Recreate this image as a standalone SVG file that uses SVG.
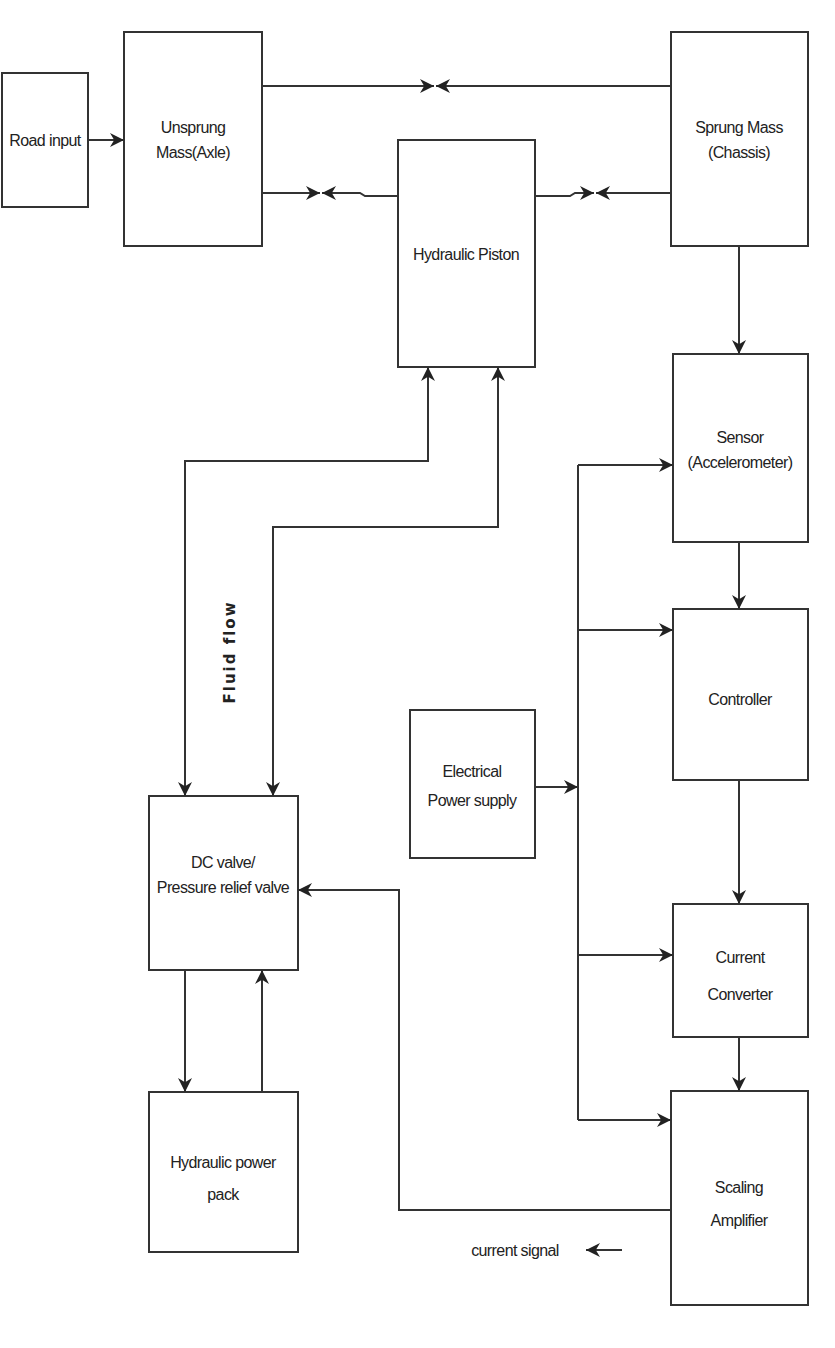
<svg xmlns="http://www.w3.org/2000/svg" width="835" height="1348" viewBox="0 0 835 1348">
<style>
.n{fill:#fff;stroke:#333;stroke-width:2}
.t{font-family:"Liberation Sans",Arial,sans-serif;font-size:16px;letter-spacing:-0.6px;fill:#222;text-anchor:middle}
.c{fill:none;stroke:#333;stroke-width:2}
</style>
<defs>
<marker id="a" viewBox="0 0 10 10" refX="10" refY="5" markerWidth="7" markerHeight="7" orient="auto-start-reverse"><path d="M0,0L10,5L0,10L3,5z" fill="#222"/></marker>
</defs>
<rect width="835" height="1348" fill="#fff"/>
<g id="road"><rect class="n" x="2" y="73" width="86" height="134"/><text class="t" x="45" y="146">Road input</text></g>
<g id="unsprung"><rect class="n" x="124" y="32" width="138" height="214"/><text class="t" x="193" y="133">Unsprung</text><text class="t" x="193" y="158">Mass(Axle)</text></g>
<g id="sprung"><rect class="n" x="671" y="32" width="137" height="214"/><text class="t" x="739" y="133">Sprung Mass</text><text class="t" x="739" y="158">(Chassis)</text></g>
<g id="piston"><rect class="n" x="398" y="140" width="137" height="227"/><text class="t" x="466" y="260">Hydraulic Piston</text></g>
<g id="sensor"><rect class="n" x="673" y="354" width="135" height="188"/><text class="t" x="740" y="443">Sensor</text><text class="t" x="740" y="468">(Accelerometer)</text></g>
<g id="controller"><rect class="n" x="673" y="609" width="135" height="171"/><text class="t" x="740" y="705">Controller</text></g>
<g id="power"><rect class="n" x="410" y="710" width="125" height="148"/><text class="t" x="472" y="777">Electrical</text><text class="t" x="472" y="806">Power supply</text></g>
<g id="dcvalve"><rect class="n" x="149" y="796" width="149" height="174"/><text class="t" x="223" y="868">DC valve/</text><text class="t" x="223" y="893">Pressure relief valve</text></g>
<g id="converter"><rect class="n" x="673" y="904" width="135" height="133"/><text class="t" x="740" y="963">Current</text><text class="t" x="740" y="1000">Converter</text></g>
<g id="powerpack"><rect class="n" x="149" y="1092" width="149" height="160"/><text class="t" x="223" y="1168">Hydraulic power</text><text class="t" x="223" y="1200">pack</text></g>
<g id="scaling"><rect class="n" x="671" y="1091" width="137" height="214"/><text class="t" x="739" y="1193">Scaling</text><text class="t" x="739" y="1226">Amplifier</text></g>
<g id="connectors">
<path class="c" d="M88,140H124" marker-end="url(#a)"/>
<path class="c" d="M262,86H434" marker-end="url(#a)"/>
<path class="c" d="M671,86H436" marker-end="url(#a)"/>
<path class="c" d="M262,193H320" marker-end="url(#a)"/>
<path class="c" d="M398,196H365L360,193H322" marker-end="url(#a)"/>
<path class="c" d="M535,196H570L575,193H594" marker-end="url(#a)"/>
<path class="c" d="M671,193H596" marker-end="url(#a)"/>
<path class="c" d="M739,246V354" marker-end="url(#a)"/>
<path class="c" d="M739,542V609" marker-end="url(#a)"/>
<path class="c" d="M739,780V904" marker-end="url(#a)"/>
<path class="c" d="M739,1037V1091" marker-end="url(#a)"/>
<path class="c" d="M428,367V461H185V796" marker-start="url(#a)" marker-end="url(#a)"/>
<path class="c" d="M498,367V527H273V796" marker-start="url(#a)" marker-end="url(#a)"/>
<path class="c" d="M185,970V1092" marker-end="url(#a)"/>
<path class="c" d="M262,1092V970" marker-end="url(#a)"/>
<path class="c" d="M671,1210H399V890H298" marker-end="url(#a)"/>
<path class="c" d="M535,787H578" marker-end="url(#a)"/>
<path class="c" d="M578,465V1120"/>
<path class="c" d="M578,465H673" marker-end="url(#a)"/>
<path class="c" d="M578,630H673" marker-end="url(#a)"/>
<path class="c" d="M578,955H673" marker-end="url(#a)"/>
<path class="c" d="M578,1120H671" marker-end="url(#a)"/>
<path class="c" d="M622,1250H586" marker-end="url(#a)"/>
</g>
<text class="t" x="515" y="1256">current signal</text>
<text x="0" y="0" transform="translate(235,652) rotate(-90)" style="font-family:'DejaVu Sans',sans-serif;font-size:15px;font-weight:bold;letter-spacing:2px;text-anchor:middle;fill:#222">Fluid flow</text>
</svg>
